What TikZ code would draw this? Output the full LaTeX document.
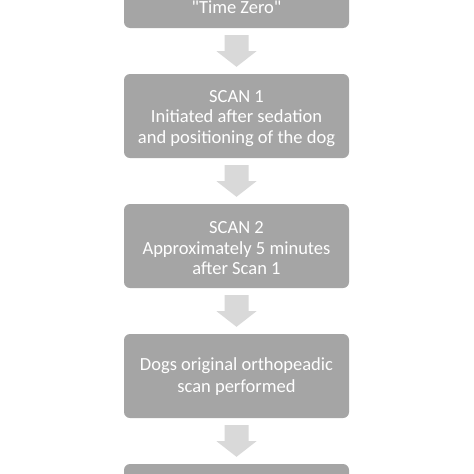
\documentclass[tikz,border=0pt]{standalone}
\usepackage{fontspec}
\setmainfont{Carlito}[Ligatures=TeXOff]
\usetikzlibrary{calc}
\definecolor{boxgray}{HTML}{A5A5A5}
\definecolor{arrowgray}{HTML}{D9D9D9}
\tikzset{
  plainbox/.style={fill=boxgray, draw=none, rounded corners=6pt,
    minimum width=225pt, minimum height=84pt, inner sep=0pt},
  boxtext/.style={text=white, align=center, inner sep=0pt,
    font=\fontsize{18.5pt}{20.5pt}\selectfont},
  arrowfill/.style={fill=arrowgray, draw=none}
}
\newcommand{\blockarrow}[2]{%
  \fill[arrowfill] ($(#1.south)+(-12,-7)$) -- ($(#1.south)+(12,-7)$)
    -- ($(#1.south)+(12,-23)$) -- ($(#1.south)+(20,-23)$)
    -- ($(#2.north)+(0,7)$) -- ($(#1.south)+(-20,-23)$)
    -- ($(#1.south)+(-12,-23)$) -- cycle;}
\begin{document}
\begin{tikzpicture}[x=1pt,y=1pt]
\fill[white] (0,0) rectangle (474,-474);
\useasboundingbox (0,0) rectangle (474,-474);
\node[plainbox] (b1) at (236.5,14) {};
\node[plainbox] (b2) at (236.5,-116) {};
\node[plainbox] (b3) at (236.5,-246) {};
\node[plainbox] (b4) at (236.5,-376) {};
\node[plainbox] (b5) at (236.5,-506) {};
\node[boxtext, anchor=base] (t1) at (236.5,-13) {"Time Zero"};
\node[boxtext] (t2) at ([yshift=-2.5pt]b2.center) {SCAN 1\\Initiated after sedation\\and positioning of the dog};
\node[boxtext] (t3) at ([yshift=-2.5pt]b3.center) {SCAN 2\\Approximately 5 minutes\\after Scan 1};
\node[boxtext, font=\fontsize{18.5pt}{22pt}\selectfont] (t4) at ([yshift=-1pt]b4.center) {Dogs original orthopeadic\\scan performed};
\blockarrow{b1}{b2}
\blockarrow{b2}{b3}
\blockarrow{b3}{b4}
\blockarrow{b4}{b5}
\end{tikzpicture}
\end{document}
